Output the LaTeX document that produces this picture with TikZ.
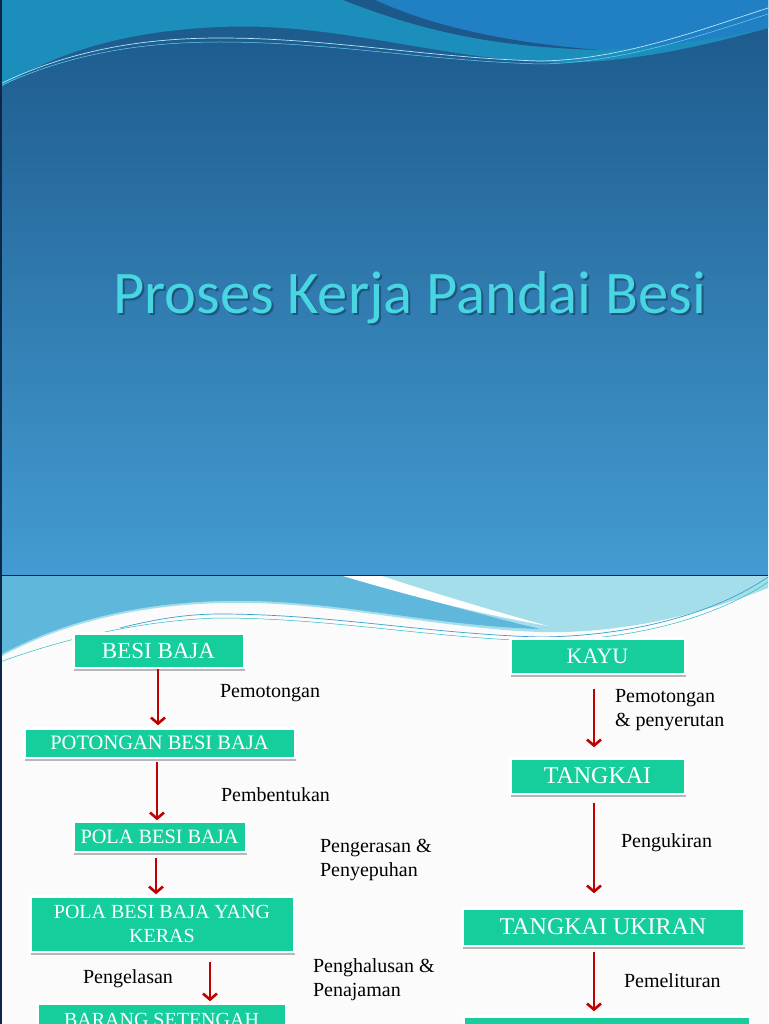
\documentclass[tikz,border=0pt]{standalone}
\usepackage{fontspec}
\setmainfont{Liberation Serif}
\newfontfamily\titlefont{Carlito}
\usetikzlibrary{arrows.meta,shadows}
\definecolor{topA}{RGB}{28,88,138}
\definecolor{topB}{RGB}{67,156,210}
\definecolor{tealA}{RGB}{28,142,188}
\definecolor{tealB}{RGB}{33,128,195}
\definecolor{titlecol}{RGB}{72,214,226}
\definecolor{titleshade}{RGB}{20,60,95}
\definecolor{boxteal}{RGB}{22,206,156}
\definecolor{arrred}{RGB}{192,0,0}
\definecolor{lowcyan}{RGB}{165,222,235}
\definecolor{lowblue}{RGB}{95,183,220}
\definecolor{edgedark}{RGB}{12,40,70}
\definecolor{strandA}{RGB}{60,160,205}
\definecolor{strandB}{RGB}{40,190,190}
\tikzset{
  box/.style={fill=boxteal, draw=white, line width=2.5pt, text=white,
    inner sep=0pt, outer sep=0pt, align=center,
    drop shadow={shadow xshift=1pt, shadow yshift=-3pt, fill=black!45, opacity=0.6}},
  lab/.style={inner sep=0pt, outer sep=0pt, align=left, anchor=west, text=black,
    font=\fontsize{20}{24}\selectfont},
  arr/.style={draw=arrred, line width=2.6pt, -{Straight Barb[length=6pt,width=14pt]}},
}
\begin{document}
\begin{tikzpicture}[x=1pt,y=-1pt]
\useasboundingbox (0,0) rectangle (768,1024);
% ---------- top slide ----------
\shade[top color=topA, bottom color=topB] (0,0) rectangle (768,576);
\fill[tealA] (0,0) -- (768,0) -- (768,28) .. controls (690,50) and (610,66) .. (540,62)
  .. controls (430,56) and (330,22) .. (220,27) .. controls (120,31) and (50,55) .. (0,88) -- cycle;
\fill[tealB] (375,0) .. controls (430,25) and (500,42) .. (600,50)
  .. controls (660,48) and (720,38) .. (768,28) -- (768,0) -- cycle;
\fill[topA] (343,0) .. controls (420,30) and (490,47) .. (600,50)
  .. controls (500,42) and (430,25) .. (375,0) -- cycle;
\draw[white!70!cyan, line width=0.7pt] (0,84) .. controls (60,55) and (130,38) .. (220,38)
  .. controls (330,38) and (430,58) .. (540,61) .. controls (620,60) and (700,30) .. (768,8);
\draw[cyan!60!white, line width=0.5pt] (0,86) .. controls (60,58) and (130,42) .. (220,42)
  .. controls (330,42) and (430,61) .. (540,64) .. controls (620,63) and (700,36) .. (768,14);
\node[font=\titlefont\fontsize{60.5}{66}\selectfont, text=titleshade, opacity=0.6,
  anchor=base west, inner sep=0pt] (titleshadow) at (115,315) {Proses Kerja Pandai Besi};
\node[font=\titlefont\fontsize{60.5}{66}\selectfont, text=titlecol,
  anchor=base west, inner sep=0pt] (title) at (113,313) {Proses Kerja Pandai Besi};
% ---------- bottom slide ----------
\fill[white!97!gray] (0,576) rectangle (768,1024);
\fill[lowcyan] (0,576) -- (768,576) -- (768,588) .. controls (700,615) and (620,634) .. (540,632)
  .. controls (430,628) and (330,600) .. (220,603) .. controls (120,606) and (50,630) .. (0,657) -- cycle;
\fill[lowblue] (0,576) -- (343,576) .. controls (400,592) and (470,612) .. (540,629)
  .. controls (430,626) and (330,598) .. (220,601) .. controls (120,604) and (50,628) .. (0,655) -- cycle;
\fill[white] (343,576) .. controls (410,596) and (480,614) .. (548,626)
  .. controls (490,610) and (430,592) .. (382,576) -- cycle;
\draw[strandA, line width=0.7pt]
  (120,628) .. controls (160,618) and (190,614) .. (220,614) .. controls (330,614) and (430,634) .. (540,637)
  .. controls (640,636) and (720,610) .. (768,577);
\draw[strandB, line width=0.5pt]
  (0,662) .. controls (60,640) and (140,620) .. (220,618) .. controls (330,618) and (430,638) .. (540,641)
  .. controls (640,640) and (720,615) .. (768,582);
\draw[edgedark, line width=1pt] (0,575.5) -- (768,575.5);
\draw[edgedark, line width=1.5pt] (0.75,0) -- (0.75,1024);
% ---------- boxes ----------
\node[box, minimum width=170.5pt, minimum height=34.5pt, font=\fontsize{23}{26}\selectfont] (besi) at (158.5,650.5) {BESI BAJA};
\node[box, minimum width=270.5pt, minimum height=29.5pt, font=\fontsize{20.5}{24}\selectfont] (potongan) at (159.5,743) {POTONGAN BESI BAJA};
\node[box, minimum width=172.5pt, minimum height=30.5pt, font=\fontsize{20.3}{24}\selectfont] (pola) at (159.5,836.5) {POLA BESI BAJA};
\node[box, minimum width=263.5pt, minimum height=55.5pt, font=\fontsize{20}{24}\selectfont] (keras) at (162,924) {POLA BESI BAJA YANG\\KERAS};
\node[box, anchor=north, minimum width=248.5pt, minimum height=34pt, font=\fontsize{20}{24}\selectfont] (barang) at (161.5,1003.25) {BARANG SETENGAH};
\node[box, minimum width=174.5pt, minimum height=35.5pt, font=\fontsize{22}{26}\selectfont] (kayu) at (597.5,656) {KAYU};
\node[box, minimum width=174.5pt, minimum height=35.5pt, font=\fontsize{24}{28}\selectfont] (tangkai) at (597.5,776) {TANGKAI};
\node[box, minimum width=281.5pt, minimum height=37.5pt, font=\fontsize{24}{28}\selectfont] (ukiran) at (603,927) {TANGKAI UKIRAN};
\node[box, anchor=north, minimum width=286.5pt, minimum height=40pt] (akhir) at (606.5,1016.25) {};
% ---------- arrows ----------
\draw[arr] ([xshift=-0.5pt,yshift=-1pt]besi.south) -- ([xshift=-1.5pt,yshift=3pt]potongan.north);
\draw[arr] ([xshift=-2.5pt,yshift=-4pt]potongan.south) -- ([xshift=-2.5pt,yshift=1pt]pola.north);
\draw[arr] ([xshift=-3.5pt,yshift=-6pt]pola.south) -- ([xshift=-6pt,yshift=2pt]keras.north);
\draw[arr] ([xshift=48pt,yshift=-10pt]keras.south) -- ([xshift=48.5pt,yshift=2pt]barang.north);
\draw[arr] ([xshift=-3.5pt,yshift=-15pt]kayu.south) -- ([xshift=-3.5pt,yshift=11pt]tangkai.north);
\draw[arr] ([xshift=-3.5pt,yshift=-9pt]tangkai.south) -- ([xshift=-9pt,yshift=15pt]ukiran.north);
\draw[arr] ([xshift=-9pt,yshift=-6pt]ukiran.south) -- ([xshift=-12.5pt,yshift=5pt]akhir.north);
% ---------- labels ----------
\node[lab] (l1) at (220,693) {Pemotongan};
\node[lab] (l2) at (221,795) {Pembentukan};
\node[lab] (l3) at (320,860) {Pengerasan \&\\Penyepuhan};
\node[lab] (l4) at (83,979) {Pengelasan};
\node[lab] (l5) at (313,980) {Penghalusan \&\\Penajaman};
\node[lab] (l6) at (615,710) {Pemotongan\\\& penyerutan};
\node[lab] (l7) at (621,843) {Pengukiran};
\node[lab] (l8) at (624,981) {Pemelituran};
\end{tikzpicture}
\end{document}
